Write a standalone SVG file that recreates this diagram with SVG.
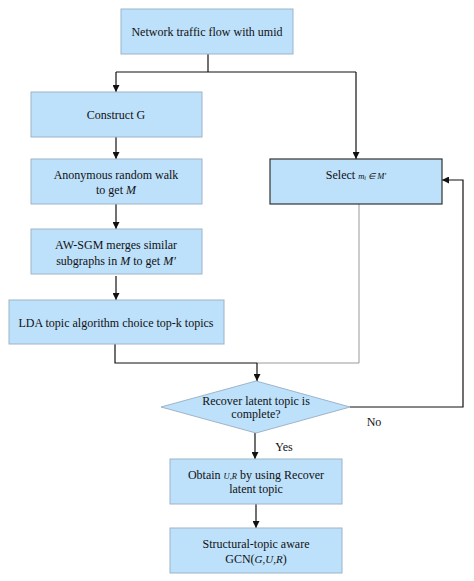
<svg xmlns="http://www.w3.org/2000/svg" width="474" height="581" viewBox="0 0 474 581">
<style>
.box{fill:#bde0fb;stroke:#9fb4c8;stroke-width:1}
.sel{fill:#bde0fb;stroke:#333;stroke-width:1.2}
text{font-family:'Liberation Serif','Times New Roman',serif;font-size:12px;fill:#111;text-anchor:middle}
.it{font-style:italic}
.sm{font-size:8.5px;font-style:italic}
.ln{fill:none;stroke:#111;stroke-width:1.2}
.gl{fill:none;stroke:#999;stroke-width:1}
</style>
<defs>
<marker id="ah" viewBox="0 0 10 10" refX="10" refY="5" markerWidth="7" markerHeight="7" orient="auto" markerUnits="userSpaceOnUse">
<path d="M0,0 L10,5 L0,10 z" fill="#111"/>
</marker>
</defs>
<g id="connectors">
<path class="ln" d="M208,54 V72"/>
<path class="ln" d="M116,72 H356"/>
<path class="ln" d="M116,72 V92" marker-end="url(#ah)"/>
<path class="ln" d="M356,72 V159" marker-end="url(#ah)"/>
<path class="ln" d="M116,137 V159" marker-end="url(#ah)"/>
<path class="ln" d="M116,204 V229" marker-end="url(#ah)"/>
<path class="ln" d="M116,276 V300" marker-end="url(#ah)"/>
<path class="ln" d="M115,344 V363 H257"/>
<path class="gl" d="M359,204 V363 H257"/>
<path class="ln" d="M257,363 V381" marker-end="url(#ah)"/>
<path class="ln" d="M350,407 H463 V180 H442" marker-end="url(#ah)"/>
<path class="ln" d="M255,433 V459" marker-end="url(#ah)"/>
<path class="ln" d="M256,504 V528" marker-end="url(#ah)"/>
</g>
<g id="n1"><rect class="box" x="121" y="9" width="172" height="45"/><text x="207" y="36">Network traffic flow with umid</text></g>
<g id="n2"><rect class="box" x="31" y="92" width="171" height="45"/><text x="116" y="119">Construct G</text></g>
<g id="n3"><rect class="box" x="31" y="159" width="171" height="45"/><text x="116" y="179">Anonymous random walk</text><text x="116" y="194">to get <tspan class="it">M</tspan></text></g>
<g id="n4"><rect class="sel" x="270" y="159" width="172" height="45"/><text x="356" y="179">Select <tspan class="sm">m<tspan font-size="6" dy="1">i</tspan><tspan dy="-1"> ∈ M′</tspan></tspan></text></g>
<g id="n5"><rect class="box" x="31" y="229" width="171" height="45"/><text x="116" y="249">AW-SGM merges similar</text><text x="116" y="265">subgraphs in <tspan class="it">M</tspan> to get <tspan class="it">M′</tspan></text></g>
<g id="n6"><rect class="box" x="9" y="300" width="215" height="44"/><text x="116" y="327">LDA topic algorithm choice top-k topics</text></g>
<g id="n7"><polygon class="box" points="256,381 350,407 256,433 161,407"/><text x="256" y="405">Recover latent topic is</text><text x="256" y="418">complete?</text></g>
<text x="374" y="426">No</text>
<text x="284" y="451">Yes</text>
<g id="n8"><rect class="box" x="170" y="459" width="172" height="45"/><text x="256" y="479">Obtain <tspan class="sm">U,R</tspan>  by using Recover</text><text x="256" y="493">latent topic</text></g>
<g id="n9"><rect class="box" x="170" y="528" width="172" height="45"/><text x="256" y="548">Structural-topic aware</text><text x="256" y="563">GCN(<tspan class="it" font-size="11">G,U,R</tspan>)</text></g>
</svg>
